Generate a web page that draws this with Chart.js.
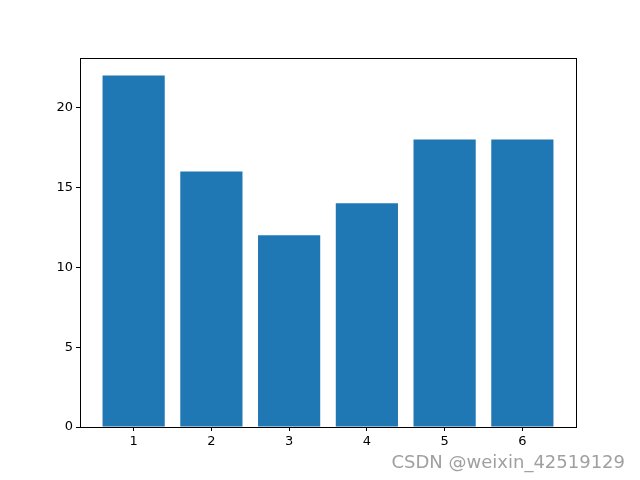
<!DOCTYPE html>
<html>
<head>
<meta charset="utf-8">
<script src="https://cdn.jsdelivr.net/npm/chart.js@4"></script>
<style>
html,body{margin:0;padding:0;background:#fff;}
#wrap{width:640px;height:480px;position:relative;}
</style>
</head>
<body>
<div id="wrap"><canvas id="c" width="640" height="480"></canvas></div>
<script>
const categories = [1, 2, 3, 4, 5, 6];
const values = [22, 16, 12, 14, 18, 18];
const yTicks = [0, 5, 10, 15, 20];
const watermark = "CSDN @weixin_42519129";

const frame = {
  id: 'frame',
  afterDraw(chart) {
    const {ctx, chartArea: a} = chart;
    ctx.save();
    ctx.strokeStyle = '#000';
    ctx.lineWidth = 1;
    ctx.strokeRect(Math.round(a.left) + 0.5, Math.round(a.top) + 0.5,
      Math.round(a.right - a.left), Math.round(a.bottom - a.top));
    ctx.font = '18px "DejaVu Sans", sans-serif';
    ctx.textAlign = 'right';
    ctx.textBaseline = 'alphabetic';
    ctx.fillStyle = 'rgba(255,255,255,0.8)';
    ctx.fillText(watermark, 626, 469);
    ctx.fillStyle = '#a0a0a0';
    ctx.fillText(watermark, 625, 468);
    ctx.restore();
  }
};

const font = {family: '"DejaVu Sans", sans-serif', size: 13};

new Chart(document.getElementById('c'), {
  type: 'bar',
  data: {
    datasets: [{
      data: categories.map((c, i) => ({x: c, y: values[i]})),
      backgroundColor: '#1f77b4',
      borderColor: '#1f77b4',
      borderWidth: 0,
      inflateAmount: 0,
      barPercentage: 0.8,
      categoryPercentage: 1.0
    }]
  },
  options: {
    responsive: false,
    animation: false,
    layout: {padding: {left: 0, top: 58, right: 64, bottom: 0}},
    plugins: {legend: {display: false}, tooltip: {enabled: false}},
    scales: {
      x: {
        type: 'linear',
        min: 0.31,
        max: 6.69,
        offset: false,
        afterBuildTicks: ax => { ax.ticks = categories.map(v => ({value: v})); },
        afterFit: ax => { ax.height = 53; },
        grid: {display: true, offset: false, drawOnChartArea: false, drawTicks: true, tickLength: 4, tickColor: '#000', color: '#000'},
        border: {display: true, color: '#000', width: 1},
        ticks: {color: '#000', font: font, padding: 3, maxRotation: 0, autoSkip: false}
      },
      y: {
        min: 0,
        max: 23.1,
        afterBuildTicks: ax => { ax.ticks = yTicks.map(v => ({value: v})); },
        afterFit: ax => { ax.width = 80; },
        grid: {display: true, drawOnChartArea: false, drawTicks: true, tickLength: 4, tickColor: '#000', color: '#000'},
        border: {display: true, color: '#000', width: 1},
        ticks: {color: '#000', font: font, padding: 3}
      }
    }
  },
  plugins: [frame]
});
</script>
</body>
</html>
